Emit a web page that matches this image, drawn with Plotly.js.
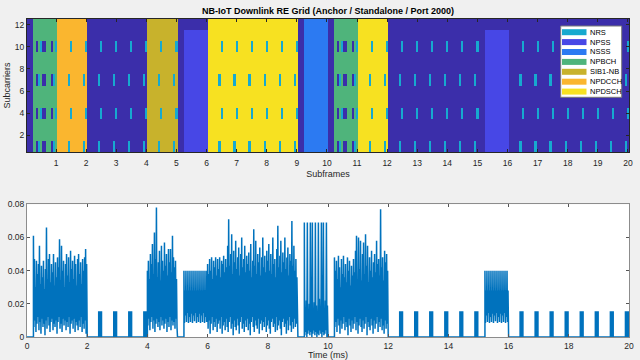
<!DOCTYPE html>
<html><head><meta charset="utf-8">
<script src="https://cdn.plot.ly/plotly-3.0.1.min.js"></script>
<style>html,body{margin:0;padding:0;background:#f0f0f0;}#chart{width:640px;height:360px;}</style>
</head><body><div id="chart"></div>
<script>
// ---------- RE grid data ----------
const categories = ['NRS','NPSS','NSSS','NPBCH','SIB1-NB','NPDCCH','NPDSCH'];
const categoryColors = ['#17A9CF','#4747E6','#2C7AF2','#4FB47B','#C8B22C','#FAB62F','#F7E121'];
const emptyColor = '#3B2EAA';
const subframeTypes = ['NPBCH','NPDCCH','','','SIB1-NB','NPSS','NPDSCH','NPDSCH','NPDSCH','NSSS',
                       'NPBCH','NPDSCH','','','','NPSS','','','',''];
const nrsSymbolsA = [5,12], nrsRowsA = [1,7];
const nrsSymbolsB = [6,13], nrsRowsB = [4,10];
const crsHoleSymbols = [4,7,8,11], crsHoleRows = [1,4,7,10];
const subframeTicks = [1,2,3,4,5,6,7,8,9,10,11,12,13,14,15,16,17,18,19,20];
const subcarrierTicks = [2,4,6,8,10,12];

// ---------- waveform data (magnitude, time in ms) ----------
const segStarts = {A:0.214, B:4.0, npss1:5.214, C:6.0, nsss:9.214, D:10.214, npss2:15.214};
const highsA = [0.061,0.047,0.030,0.046,0.038,0.044,0.055,0.032,0.043,0.036,0.046,0.029,0.041,0.066,0.035,0.047,0.050,0.033,0.044,0.039,
 0.050,0.031,0.045,0.036,0.048,0.042,0.059,0.034,0.055,0.040,0.046,0.030,0.044,0.050,0.037,0.048,0.033,0.052,0.041,0.046,
 0.035,0.049,0.044,0.031,0.047,0.050,0.038,0.045,0.032,0.047,0.040,0.048,0.053,0.044];
const lowsA = [0.006,0.010,0.003,0.008,0.012,0.004,0.009,0.002,0.011,0.006,0.008,0.001,0.010,0.005,0.012,0.007,0.003,0.009,0.011,0.004,
 0.008,0.006,0.010,0.002,0.009,0.012,0.005,0.008,0.003,0.011,0.007,0.010,0.004,0.009,0.006,0.012,0.002,0.008,0.010,0.005,
 0.011,0.003,0.009,0.007,0.004,0.010,0.006,0.012,0.003,0.008,0.005,0.010,0.002,0.007];
const highsB = [0.040,0.046,0.035,0.050,0.044,0.056,0.038,0.063,0.047,0.078,0.036,0.045,0.052,0.034,0.055,0.046,0.040,0.057,0.043,0.050,
 0.037,0.053,0.045,0.053,0.039,0.061,0.048,0.042,0.046,0.035];
const lowsB = [0.007,0.011,0.004,0.009,0.012,0.005,0.010,0.003,0.008,0.011,0.006,0.009,0.004,0.012,0.007,0.010,0.005,0.008,0.011,0.003,
 0.009,0.006,0.012,0.004,0.010,0.007,0.009,0.005,0.011,0.006];
const highsC = [0.044,0.038,0.047,0.040,0.048,0.035,0.046,0.042,0.048,0.037,
 0.047,0.041,0.048,0.036,0.046,0.044,0.049,0.039,0.047,0.042,
 0.055,0.071,0.043,0.050,0.062,0.038,0.052,0.045,0.058,0.041,
 0.048,0.054,0.037,0.050,0.060,0.042,0.047,0.055,0.039,0.049,
 0.044,0.051,0.040,0.056,0.036,0.046,0.065,0.043,0.058,0.038,
 0.050,0.045,0.054,0.037,0.048,0.060,0.042,0.049,0.039,0.052,
 0.046,0.056,0.040,0.050,0.038,0.060,0.044,0.047,0.036,0.053,
 0.067,0.042,0.049,0.058,0.039,0.051,0.045,0.060,0.041,0.048,
 0.054,0.037,0.050,0.046,0.070,0.043,0.055,0.040,0.047,0.036];
const lowsC = [0.005,0.010,0.002,0.008,0.012,0.004,0.009,0.006,0.011,0.003,
 0.008,0.010,0.005,0.012,0.002,0.007,0.009,0.004,0.011,0.006,
 0.003,0.009,0.012,0.005,0.008,0.001,0.010,0.006,0.004,0.011,
 0.007,0.002,0.009,0.012,0.005,0.008,0.003,0.010,0.006,0.011,
 0.004,0.008,0.001,0.009,0.012,0.006,0.003,0.010,0.007,0.005,
 0.011,0.002,0.008,0.010,0.004,0.009,0.006,0.012,0.003,0.007,
 0.010,0.005,0.002,0.009,0.011,0.006,0.008,0.003,0.012,0.004,
 0.007,0.010,0.005,0.001,0.009,0.011,0.006,0.008,0.002,0.010,
 0.004,0.012,0.007,0.003,0.009,0.005,0.011,0.006,0.008,0.002];
const highsD = [0.048,0.040,0.046,0.035,0.049,0.042,0.030,0.047,0.038,0.049,
 0.036,0.044,0.033,0.048,0.040,0.046,0.031,0.043,0.037,0.047,
 0.039,0.052,0.061,0.035,0.060,0.041,0.058,0.034,0.050,0.057,
 0.038,0.062,0.043,0.055,0.033,0.048,0.040,0.052,0.036,0.045,
 0.050,0.039,0.058,0.044,0.047,0.037,0.077,0.042,0.048,0.034,
 0.052,0.045,0.050,0.040];
const lowsD = [0.006,0.009,0.003,0.011,0.007,0.002,0.010,0.005,0.008,0.012,
 0.004,0.009,0.006,0.001,0.011,0.007,0.003,0.010,0.005,0.008,
 0.012,0.004,0.009,0.002,0.007,0.011,0.006,0.003,0.010,0.005,
 0.008,0.012,0.001,0.009,0.006,0.004,0.011,0.007,0.002,0.010,
 0.005,0.008,0.012,0.003,0.009,0.006,0.011,0.004,0.007,0.002,
 0.010,0.005,0.008,0.003];
const npssHighs = [0.040,0.028,0.040,0.028,0.040,0.028,0.040,0.028,0.040,0.028,0.040,0.028,
 0.040,0.028,0.040,0.028,0.040,0.028,0.040,0.028,0.040,0.028,0.040,0.028];
const npssLows = [0.0085,0.013,0.009,0.0145,0.0085,0.012,0.009,0.014,0.0085,0.013,0.0095,0.0145,
 0.0085,0.012,0.009,0.014,0.0085,0.013,0.009,0.0145,0.0085,0.012,0.009,0.014];
const nsssHighs = [0.069,0.018,0.022,0.069,0.016,0.020,0.069,0.024,0.069,0.017,0.021,0.069,
 0.019,0.015,0.069,0.023,0.018,0.069,0.020,0.069,0.016,0.022,0.069,0.019];
const nsssLows = [0.001,0.003,0.000,0.002,0.004,0.001,0.003,0.000,0.002,0.004,0.001,0.003,
 0.000,0.002,0.001,0.004,0.002,0.000,0.003,0.001,0.002,0.004,0.000,0.002];
const nrsOnlySubframes = [2,3,12,13,14,16,17,18,19];
const nrsBlockOffsets = [0.357,0.857];
const nrsBlockWidth = 0.143;
const nrsBlockHeight = 0.0155;
const timeTicks = [0,2,4,6,8,10,12,14,16,18,20];
const magTicks = [0,0.02,0.04,0.06,0.08];

// ---------- build RE grid ----------
const SYM = 14, NSF = subframeTypes.length, NSC = 12;
const codeOf = {}; categories.forEach((c,i)=>codeOf[c]=i+1);
const z = [];
for (let r=0;r<NSC;r++) z.push(new Array(NSF*SYM).fill(0));
subframeTypes.forEach((t,sf)=>{
  for (let s=0;s<SYM;s++){
    const col = sf*SYM+s;
    for (let r=1;r<=NSC;r++){
      let v = 0;
      if (t==='NPDCCH'||t==='NPDSCH'||t==='SIB1-NB') v = codeOf[t];
      else if (t==='NPBCH' && s>=3) v = codeOf[t];
      else if (t==='NPSS' && s>=3 && r<=11) v = codeOf[t];
      else if (t==='NSSS' && s>=3) v = codeOf[t];
      if (t==='NPBCH' && crsHoleSymbols.includes(s) && crsHoleRows.includes(r)) v = 0;
      if (t!=='NPSS' && t!=='NSSS'){
        if (nrsSymbolsA.includes(s) && nrsRowsA.includes(r)) v = codeOf.NRS;
        if (nrsSymbolsB.includes(s) && nrsRowsB.includes(r)) v = codeOf.NRS;
      }
      z[r-1][col] = v;
    }
  }
});
const gx = []; for (let i=0;i<NSF*SYM;i++) gx.push((i+1)/SYM);
const gy = []; for (let r=1;r<=NSC;r++) gy.push(r);
const allColors = [emptyColor].concat(categoryColors);
const nC = allColors.length;
const cscale = [];
allColors.forEach((c,i)=>{cscale.push([i/nC,c]); cscale.push([(i+1)/nC,c]);});

// ---------- build waveform ----------
const dt = 1/30;
const wx=[], wy=[];
function pt(x,y){wx.push(x);wy.push(y);}
function zig(t0,h,l){h.forEach((v,k)=>{pt(t0+k*dt,v);pt(t0+(k+0.5)*dt,l[k]);});}
pt(0,0); pt(segStarts.A,0); zig(segStarts.A,highsA,lowsA); pt(2.0,0);
pt(segStarts.B,0); zig(segStarts.B,highsB,lowsB); pt(5.0,0);
pt(segStarts.npss1,0); zig(segStarts.npss1,npssHighs,npssLows);
zig(segStarts.C,highsC,lowsC); pt(9.0,0);
pt(segStarts.nsss,0); zig(segStarts.nsss,nsssHighs,nsssLows); pt(10.0,0);
pt(segStarts.D,0); zig(segStarts.D,highsD,lowsD); pt(12.0,0);
pt(segStarts.npss2,0); zig(segStarts.npss2,npssHighs,npssLows); pt(16.0,0); pt(20,0);
const bx=[], by=[];
nrsOnlySubframes.forEach(sf=>nrsBlockOffsets.forEach(o=>{
  const s=sf+o, e=s+nrsBlockWidth;
  bx.push(s,s,e,e,null); by.push(0,nrsBlockHeight,nrsBlockHeight,0,null);
}));

const blue = '#0072BD';
const traces = [
  {type:'heatmap', x:gx, y:gy, z:z, zmin:-0.5, zmax:nC-0.5, colorscale:cscale, showscale:false,
   xaxis:'x', yaxis:'y', hoverinfo:'skip', zsmooth:false},
  {type:'scatter', mode:'lines', x:wx, y:wy, xaxis:'x2', yaxis:'y2', line:{color:blue,width:1.5}, showlegend:false, hoverinfo:'skip'},
  {type:'scatter', mode:'lines', x:bx, y:by, xaxis:'x2', yaxis:'y2', fill:'toself', fillcolor:blue, line:{color:blue,width:0}, showlegend:false, hoverinfo:'skip'}
];

// ---------- layout ----------
const L=27, R=11, T=19, B=23, W=640, H=360;
const PW=W-L-R, PH=H-T-B;
const px = x=>(x-L)/PW, py = y=>(H-B-y)/PH;
const font = 'Liberation Sans, Arial, sans-serif';
const tickFont = {family:font,size:8.5,color:'#262626'};
const shapes = [], annotations = [];
shapes.push({type:'rect',xref:'paper',yref:'paper',x0:px(560.7),x1:px(621.7),y0:py(97.3),y1:py(26),
  fillcolor:'#ffffff',line:{color:'#7a7a7a',width:1},layer:'above'});
categories.forEach((c,i)=>{
  const cy = 32.2 + i*9.9;
  shapes.push({type:'rect',xref:'paper',yref:'paper',x0:px(562),x1:px(586.5),y0:py(cy+3),y1:py(cy-3),
    fillcolor:categoryColors[i],line:{width:0},layer:'above'});
  annotations.push({xref:'paper',yref:'paper',x:px(587.5),y:py(cy),text:c,showarrow:false,xanchor:'left',yanchor:'middle',
    font:{family:font,size:7.5,color:'#000'}});
});

const layout = {
  width:W, height:H, margin:{l:L,r:R,t:T,b:B}, paper_bgcolor:'#f0f0f0', plot_bgcolor:'#ffffff',
  font:{family:font,size:9,color:'#262626'}, showlegend:false,
  title:{text:'<b>NB-IoT Downlink RE Grid (Anchor / Standalone / Port 2000)</b>', font:{family:font,size:9,color:'#000'},
    x:px(328), xref:'paper', xanchor:'center', y:1-11/H, yref:'container', yanchor:'middle'},
  xaxis:{domain:[0,1], anchor:'y', range:[1/SYM/2, NSF+1/SYM/2], tickvals:subframeTicks, ticks:'inside', ticklen:3,
    tickcolor:'#262626', showline:true, linecolor:'#262626', linewidth:1, mirror:'ticks', showgrid:false, zeroline:false,
    tickfont:tickFont, ticklabelstandoff:3, title:{text:'Subframes', font:{family:font,size:9,color:'#262626'}, standoff:3}},
  yaxis:{domain:[py(152),1], anchor:'x', range:[0.5,12.5], tickvals:subcarrierTicks, ticks:'inside', ticklen:3,
    tickcolor:'#262626', showline:true, linecolor:'#262626', linewidth:1, mirror:'ticks', showgrid:false, zeroline:false,
    tickfont:tickFont, title:{text:'Subcarriers', font:{family:font,size:9,color:'#262626'}, standoff:2}},
  xaxis2:{domain:[0,1], anchor:'y2', range:[0,20], tickvals:timeTicks, ticks:'inside', ticklen:3,
    tickcolor:'#555', showline:true, linecolor:'#8c8c8c', linewidth:1, mirror:'ticks', showgrid:false, zeroline:false,
    tickfont:tickFont, ticklabelstandoff:1, title:{text:'Time (ms)', font:{family:font,size:9,color:'#262626'}, standoff:6}},
  yaxis2:{domain:[0,py(204.3)], anchor:'x2', range:[0,0.08], tickvals:magTicks, ticks:'inside', ticklen:3,
    tickcolor:'#555', showline:true, linecolor:'#8c8c8c', linewidth:1, mirror:'ticks', showgrid:false, zeroline:false,
    tickfont:tickFont},
  shapes:shapes, annotations:annotations
};
Plotly.newPlot('chart', traces, layout, {displayModeBar:false, staticPlot:true});
</script></body></html>
